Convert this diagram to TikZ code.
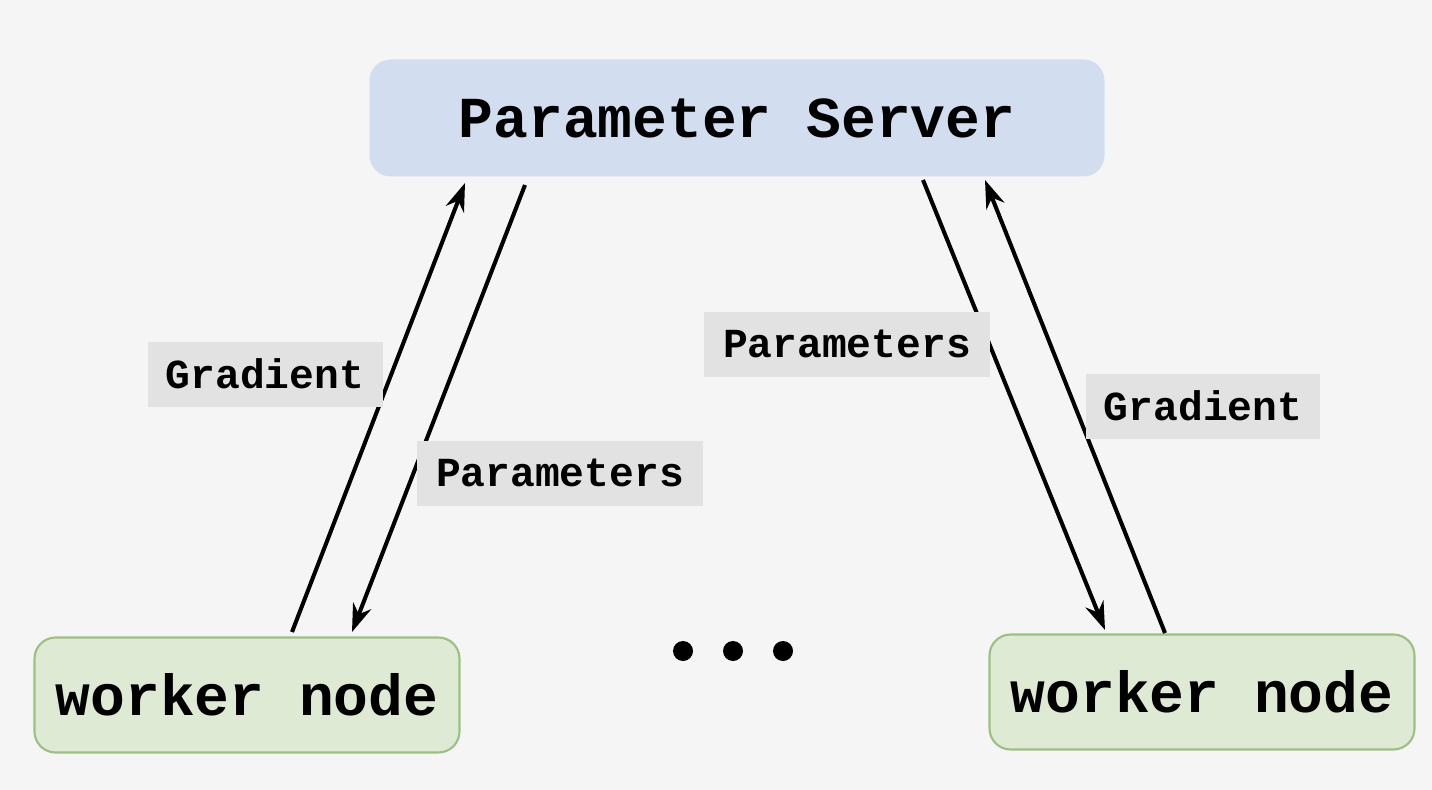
\documentclass[tikz,border=0pt]{standalone}
\usepackage{fontspec}
\setmonofont{Liberation Mono}
\usetikzlibrary{arrows.meta}
\definecolor{bg}{HTML}{F5F5F5}
\definecolor{psfill}{HTML}{D2DEF0}
\definecolor{wfill}{HTML}{DFEAD4}
\definecolor{wdraw}{HTML}{9CC083}
\definecolor{lbl}{HTML}{E2E2E2}
\begin{document}
\begin{tikzpicture}[x=0.02cm,y=-0.02cm,
  big/.style={font=\ttfamily\bfseries\fontsize{33}{36}\selectfont},
  lab/.style={fill=lbl,font=\ttfamily\bfseries\fontsize{23.5}{26}\selectfont,minimum height=65*0.02cm,inner xsep=0.3cm},
  arr/.style={line width=2.3pt,-{Stealth[length=16pt,width=11pt]}}]
\fill[bg] (0,0) rectangle (1432,790);
\useasboundingbox (0,0) rectangle (1432,790);
\node[big,fill=psfill,rounded corners=12pt,minimum width=735*0.02cm,minimum height=117*0.02cm] (ps) at (737,118) {Parameter Server};
\node[big,fill=wfill,draw=wdraw,line width=1.2pt,rounded corners=12pt,minimum width=425*0.02cm,minimum height=115*0.02cm] (w1) at (247,695) {worker node};
\node[big,fill=wfill,draw=wdraw,line width=1.2pt,rounded corners=12pt,minimum width=425*0.02cm,minimum height=115*0.02cm] (w2) at (1202,692) {worker node};
\coordinate (a1s) at (292,632); \coordinate (a1e) at (465,183);
\coordinate (a2s) at (525,185); \coordinate (a2e) at (352,632);
\coordinate (a3s) at (923,180); \coordinate (a3e) at (1105,630);
\coordinate (a4s) at (1165,633); \coordinate (a4e) at (985,180);
\draw[arr] (a1s) -- (a1e);
\draw[arr] (a2s) -- (a2e);
\draw[arr] (a3s) -- (a3e);
\draw[arr] (a4s) -- (a4e);
\node[lab,minimum width=235*0.02cm] (g1) at (265,374) {Gradient};
\node[lab,minimum width=286*0.02cm] (p1) at (560,473) {Parameters};
\node[lab,minimum width=286*0.02cm] (p2) at (847,344) {Parameters};
\node[lab,minimum width=234*0.02cm] (g2) at (1203,406) {Gradient};
\foreach \i/\x in {1/683,2/733,3/783} \fill (\x,651) circle (10) coordinate (d\i);
\end{tikzpicture}
\end{document}
